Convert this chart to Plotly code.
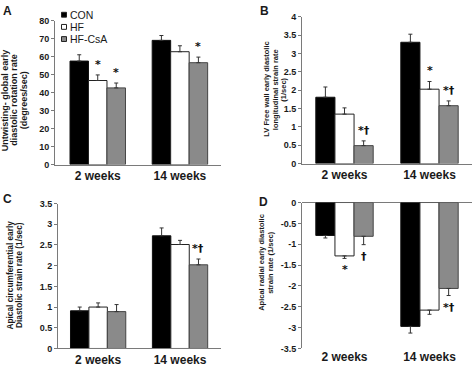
import plotly.graph_objects as go

W, H = 474, 371

categories = ["2 weeks", "14 weeks"]
series = ["CON", "HF", "HF-CsA"]
fills = ["#000000", "#ffffff", "#8a8a8a"]
outlines = ["#111111", "#222222", "#444444"]

# Panel A: untwisting rate (degrees/sec)
a_con = [57.5, 69.0]
a_hf = [46.7, 62.7]
a_csa = [42.6, 56.6]
a_con_err = [3.5, 2.7]
a_hf_err = [3.1, 3.3]
a_csa_err = [2.7, 3.1]

# Panel B: LV free wall longitudinal strain rate (1/sec)
b_con = [1.81, 3.31]
b_hf = [1.35, 2.03]
b_csa = [0.49, 1.58]
b_con_err = [0.28, 0.22]
b_hf_err = [0.17, 0.21]
b_csa_err = [0.13, 0.13]

# Panel C: apical circumferential strain rate (1/sec)
c_con = [0.91, 2.72]
c_hf = [1.00, 2.51]
c_csa = [0.89, 2.02]
c_con_err = [0.09, 0.19]
c_hf_err = [0.10, 0.10]
c_csa_err = [0.17, 0.14]

# Panel D: apical radial strain rate (1/sec)
d_con = [-0.79, -2.97]
d_hf = [-1.28, -2.58]
d_csa = [-0.81, -2.06]
d_con_err = [0.06, 0.16]
d_hf_err = [0.06, 0.10]
d_csa_err = [0.20, 0.17]

# significance marks: (series index, category index, text)
a_marks = [(1, 0, "*"), (2, 0, "*"), (2, 1, "*")]
b_marks = [(2, 0, "*†"), (1, 1, "*"), (2, 1, "*†")]
c_marks = [(2, 1, "*†")]
d_marks = [(1, 0, "*"), (2, 0, "†"), (2, 1, "*†")]

a_ticks = [0, 10, 20, 30, 40, 50, 60, 70, 80]
b_ticks = [0, 0.5, 1, 1.5, 2, 2.5, 3, 3.5, 4]
c_ticks = [0, 0.5, 1, 1.5, 2, 2.5, 3, 3.5]
d_ticks = [0, -0.5, -1, -1.5, -2, -2.5, -3, -3.5]

a_title = ["Untwisting- global early", "diastolic rotation rate", "(degrees/sec)"]
b_title = ["LV Free wall early diastolic", "longitudinal strain rate", "(1/sec)"]
c_title = ["Apical circumferential early", "Diastolic strain rate (1/sec)"]
d_title = ["Apical radial early diastolic", "strain rate (1/sec)"]


def fmt(v):
    return "%g" % v


FONT = "Liberation Sans, Arial, sans-serif"
MARKFONT = "DejaVu Sans, Liberation Sans, sans-serif"
TXT = "#1a1a1a"
AX = "#7a7a7a"

panels = [
    dict(key="", vals=[a_con, a_hf, a_csa], errs=[a_con_err, a_hf_err, a_csa_err], marks=a_marks,
         xdom=(55, 221), xr=[-0.52, 1.5], ydom=(164, 16), yr=[0, 80], ticks=a_ticks,
         title=a_title, tx=[5, 14.5, 24], ty=98, tsize=9,
         letter="A", lx=7, ly=6, neg=False),
    dict(key="2", vals=[b_con, b_hf, b_csa], errs=[b_con_err, b_hf_err, b_csa_err], marks=b_marks,
         xdom=(302, 472), xr=[-0.5, 1.5], ydom=(163, 12.3), yr=[0, 4], ticks=b_ticks,
         title=b_title, tx=[267, 275.5, 284], ty=87, tsize=7.5,
         letter="B", lx=264, ly=6, neg=False),
    dict(key="3", vals=[c_con, c_hf, c_csa], errs=[c_con_err, c_hf_err, c_csa_err], marks=c_marks,
         xdom=(58, 221), xr=[-0.49, 1.5], ydom=(353, 204), yr=[0, 3.5], ticks=c_ticks,
         title=c_title, tx=[10, 18.5], ty=278, tsize=8.3,
         letter="C", lx=7, ly=199, neg=False),
    dict(key="4", vals=[d_con, d_hf, d_csa], errs=[d_con_err, d_hf_err, d_csa_err], marks=d_marks,
         xdom=(302, 472), xr=[-0.5, 1.5], ydom=(353, 203), yr=[-3.5, 0], ticks=d_ticks,
         title=d_title, tx=[262, 271], ty=265, tsize=7.5,
         letter="D", lx=263, ly=202, neg=True),
]

fig = go.Figure()
annotations = []
shapes = []
BARW = 0.225
offsets = [-BARW, 0, BARW]

for p in panels:
    k = p["key"]
    xa = "x" + k
    ya = "y" + k
    for i, s in enumerate(series):
        err = p["errs"][i]
        if p["neg"]:
            ey = dict(type="data", symmetric=False, array=[0] * len(err), arrayminus=err,
                      color="#333333", thickness=1, width=2)
        else:
            ey = dict(type="data", symmetric=False, array=err, arrayminus=[0] * len(err),
                      color="#333333", thickness=1, width=2)
        fig.add_trace(go.Bar(
            x=categories, y=p["vals"][i], name=s, xaxis=xa, yaxis=ya,
            marker=dict(color=fills[i], line=dict(color=outlines[i], width=1)),
            error_y=ey, showlegend=False, width=BARW, offset=offsets[i] - BARW / 2,
        ))
    for (si, ci, t) in p["marks"]:
        v = p["vals"][si][ci]
        e = p["errs"][si][ci]
        if p["neg"]:
            annotations.append(dict(x=ci + offsets[si], y=v - e, xref=xa, yref=ya, text=t,
                                    showarrow=False, yanchor="top", yshift=-3,
                                    font=dict(family=MARKFONT, size=11, color="#111111", weight="bold")))
        else:
            annotations.append(dict(x=ci + offsets[si], y=v + e, xref=xa, yref=ya, text=t,
                                    showarrow=False, yanchor="bottom", yshift=2,
                                    font=dict(family=MARKFONT, size=11, color="#111111", weight="bold")))
    x0, x1 = p["xdom"]
    yb, yt = p["ydom"]
    xaxis = dict(domain=[x0 / W, x1 / W], range=p["xr"], anchor=ya, showgrid=False,
                 showline=not p["neg"], linecolor=AX, linewidth=1, ticks="", zeroline=False,
                 tickfont=dict(family=FONT, size=12, color=TXT, weight="bold"), fixedrange=True)
    yaxis = dict(domain=[1 - yb / H, 1 - yt / H], range=p["yr"], anchor=xa, showgrid=False,
                 showline=True, linecolor=AX, linewidth=1, ticks="outside", ticklen=3,
                 tickcolor=AX, tickvals=p["ticks"], ticktext=[fmt(t) for t in p["ticks"]],
                 zeroline=p["neg"], zerolinecolor=AX, zerolinewidth=1,
                 tickfont=dict(family=FONT, size=9, color=TXT, weight="bold"), fixedrange=True)
    fig.layout["xaxis" + k] = xaxis
    fig.layout["yaxis" + k] = yaxis
    for line, lxp in zip(p["title"], p["tx"]):
        annotations.append(dict(x=lxp / W, y=1 - p["ty"] / H, xref="paper", yref="paper",
                                text=line, textangle=-90, showarrow=False,
                                xanchor="center", yanchor="middle",
                                font=dict(family=FONT, size=p["tsize"], color=TXT, weight="bold")))
    annotations.append(dict(x=p["lx"] / W, y=1 - p["ly"] / H, xref="paper", yref="paper",
                            text=p["letter"], showarrow=False, xanchor="center", yanchor="middle",
                            font=dict(family=FONT, size=12, color=TXT, weight="bold")))

# legend (panel A)
leg_y = [10, 22.5, 35]
for i, s in enumerate(series):
    yc = leg_y[i]
    shapes.append(dict(type="rect", xref="paper", yref="paper",
                       x0=61.5 / W, x1=66.5 / W, y0=1 - (yc + 2.5) / H, y1=1 - (yc - 2.5) / H,
                       fillcolor=fills[i], line=dict(color="#222222", width=1)))
    annotations.append(dict(x=68 / W, y=1 - yc / H, xref="paper", yref="paper", text=s,
                            showarrow=False, xanchor="left", yanchor="middle",
                            font=dict(family=FONT, size=10.5, color=TXT)))

fig.update_layout(
    width=W, height=H, margin=dict(l=0, r=0, t=0, b=0),
    paper_bgcolor="white", plot_bgcolor="white",
    barmode="overlay", annotations=annotations, shapes=shapes,
    showlegend=False,
)

fig.write_html("out.html", config={"displayModeBar": False},
               post_script="document.body.style.margin='0px';document.body.style.padding='0px';")
